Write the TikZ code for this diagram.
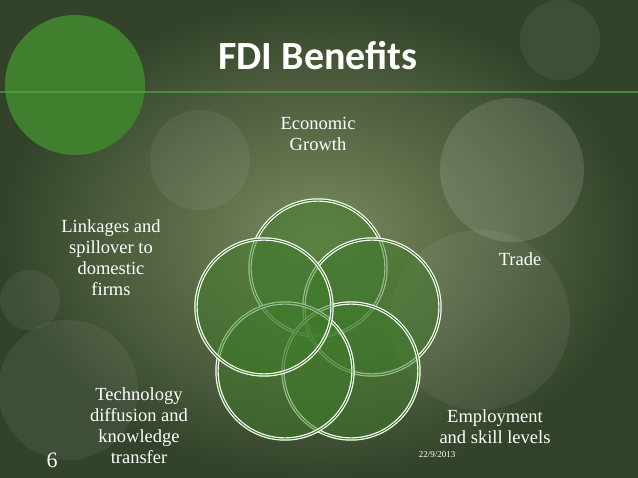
\documentclass[tikz,border=0pt]{standalone}
\usepackage{fontspec}
\setmainfont{Liberation Serif}
\newfontfamily\titlefont{Carlito}
\usetikzlibrary{shadings}
\begin{document}
\begin{tikzpicture}[x=1pt,y=-1pt,
  venn/.style={circle,minimum size=136pt,inner sep=0pt,fill=vennc,fill opacity=0.5,draw=white,line width=1.2pt,double=vennc,double distance=1pt,text opacity=1},
  lbl/.style={text=white,font=\fontsize{18.5}{21}\selectfont,align=center},
  deco/.style={fill=white,fill opacity=0.06,draw=none}]
\definecolor{vennc}{HTML}{3E7A2A}
\definecolor{decogreen}{HTML}{3F7F2E}
\useasboundingbox (0,0) rectangle (638,478);
\definecolor{bgc}{HTML}{7A8A5E}\definecolor{bge}{HTML}{33432A}
\shade[inner color=bgc,outer color=bge] (0,0) rectangle (638,478);
\fill[fill=decogreen] (75,85) circle (70);
\fill[deco,fill opacity=0.12] (512,170) circle (72);
\fill[deco] (68,390) circle (70);
\fill[deco] (30,300) circle (30);
\fill[deco] (200,160) circle (50);
\fill[deco] (480,320) circle (90);
\fill[deco] (560,40) circle (40);
\draw[green!40!gray,line width=1.2pt,opacity=0.6] (0,92) -- (638,92);
\node[text=white,font=\titlefont\bfseries\fontsize{40}{44}\selectfont] (t) at (318,56) {FDI Benefits};
\node[venn] (c1) at (318,268) {};
\node[venn] (c2) at (372,307) {};
\node[venn] (c3) at (351,371) {};
\node[venn] (c4) at (285,371) {};
\node[venn] (c5) at (264,307) {};
\node[lbl] (l1) at (318,134) {Economic\\Growth};
\node[lbl] (l2) at (520,259) {Trade};
\node[lbl] (l3) at (495,427) {Employment\\and skill levels};
\node[lbl] (l4) at (139,426) {Technology\\diffusion and\\knowledge\\transfer};
\node[lbl] (l5) at (111,258) {Linkages and\\spillover to\\domestic\\firms};
\node[text=white,font=\fontsize{22}{24}\selectfont] (n) at (52,460) {6};
\node[text=white,font=\fontsize{9}{10}\selectfont] (d) at (437,455) {22/9/2013};
\end{tikzpicture}
\end{document}
